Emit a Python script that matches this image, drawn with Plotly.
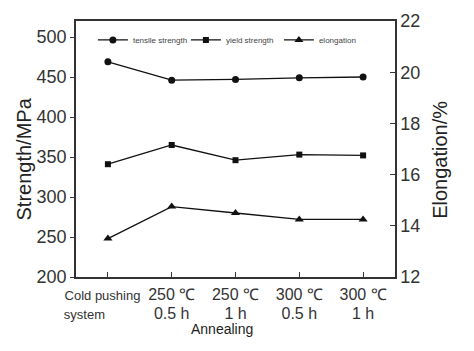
import plotly.graph_objects as go

categories = ["Cold pushing system", "250 ℃ 0.5 h", "250 ℃ 1 h", "300 ℃ 0.5 h", "300 ℃ 1 h"]
tick_lines = [("Cold pushing", "system"), ("250 ℃", "0.5 h"), ("250 ℃", "1 h"),
              ("300 ℃", "0.5 h"), ("300 ℃", "1 h")]
tensile_strength = [469, 446, 447, 449, 450]
yield_strength = [341, 365, 346, 353, 352]
elongation = [13.5, 14.75, 14.5, 14.25, 14.25]

font_family = "Liberation Sans, Arial, sans-serif"
x = list(range(len(categories)))
NB = "\u00a0"


def styled(lines, i):
    if i == 0:
        a = f'<span style="font-size:13px">{lines[0]}{NB*3}</span>'
        b = f'<span style="font-size:13px">{lines[1]}{NB*13}</span>'
    else:
        a = f'<span style="font-size:16px">{lines[0]}</span>'
        b = f'<span style="font-size:16px">{lines[1]}</span>'
    return a + "<br>" + b


ticktext = [styled(l, i) for i, l in enumerate(tick_lines)]

fig = go.Figure()
fig.add_trace(go.Scatter(x=x, y=tensile_strength, name="tensile strength", mode="lines+markers",
                         line=dict(color="#111", width=1.3),
                         marker=dict(symbol="circle", size=7, color="#111")))
fig.add_trace(go.Scatter(x=x, y=yield_strength, name="yield strength", mode="lines+markers",
                         line=dict(color="#111", width=1.3),
                         marker=dict(symbol="square", size=6, color="#111")))
fig.add_trace(go.Scatter(x=x, y=elongation, name="elongation", mode="lines+markers", yaxis="y2",
                         line=dict(color="#111", width=1.3),
                         marker=dict(symbol="triangle-up", size=8, color="#111")))

fig.update_layout(
    width=474, height=351,
    margin=dict(l=76, r=79, t=21, b=74, autoexpand=False),
    paper_bgcolor="white", plot_bgcolor="white",
    font=dict(family=font_family, color="#222"),
    showlegend=True,
    legend=dict(orientation="h", x=0.053, y=0.926, xanchor="left", yanchor="middle",
                font=dict(size=8, color="#444"), bgcolor="rgba(0,0,0,0)",
                entrywidth=48, entrywidthmode="pixels", tracegroupgap=0),
    xaxis=dict(
        range=[-0.5, 4.5], tickmode="array", tickvals=x, ticktext=ticktext, tickangle=0,
        ticks="inside", ticklen=5, tickcolor="#333", tickwidth=1, ticklabelstandoff=4,
        showline=True, linecolor="#333", linewidth=1.5, mirror=True,
        showgrid=False, zeroline=False, automargin=False,
        tickfont=dict(size=14.5, color="#333"),
    ),
    yaxis=dict(
        range=[200, 520], tickvals=[200, 250, 300, 350, 400, 450, 500],
        ticks="outside", ticklen=4, tickcolor="#333", automargin=False,
        showline=True, linecolor="#333", linewidth=1.5,
        showgrid=False, zeroline=False,
        tickfont=dict(size=18, color="#333"),
    ),
    yaxis2=dict(
        range=[12, 22], tickvals=[12, 14, 16, 18, 20, 22], overlaying="y", side="right",
        ticks="inside", ticklen=5, tickcolor="#333", automargin=False,
        showline=True, linecolor="#333", linewidth=1.5,
        showgrid=False, zeroline=False,
        tickfont=dict(size=18, color="#333"),
    ),
    annotations=[
        dict(text="Strength/MPa", xref="paper", yref="paper", x=-0.163, y=0.459,
             textangle=-90, showarrow=False, xanchor="center", yanchor="middle",
             font=dict(size=20, color="#222")),
        dict(text="Elongation/%", xref="paper", yref="paper", x=1.141, y=0.4575,
             textangle=-90, showarrow=False, xanchor="center", yanchor="middle",
             font=dict(size=20, color="#222")),
        dict(text="Annealing", xref="paper", yref="paper", x=0.4577, y=-0.205,
             showarrow=False, xanchor="center", yanchor="middle",
             font=dict(size=14, color="#222")),
    ],
)

fig.write_html("out.html")
